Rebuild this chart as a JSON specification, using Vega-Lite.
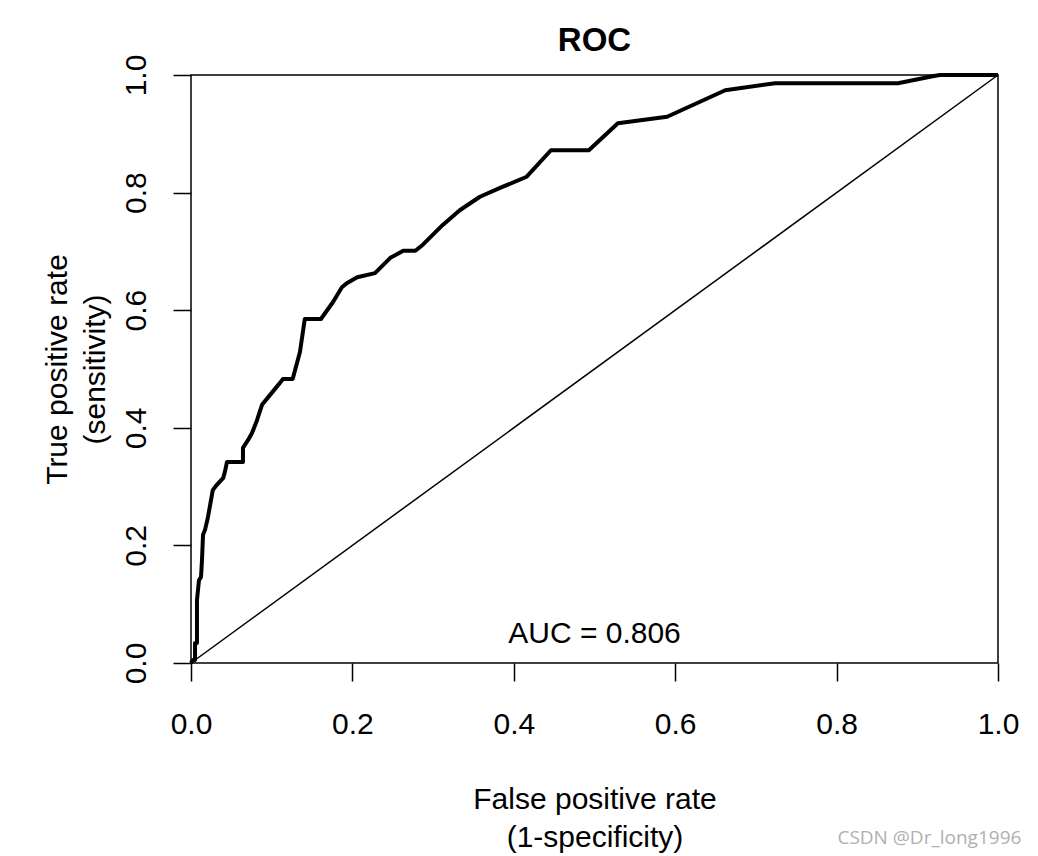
{
  "$schema": "https://vega.github.io/schema/vega-lite/v6.json",
  "width": 807,
  "height": 588,
  "autosize": {"type": "none"},
  "padding": {"left": 191, "top": 75, "right": 40, "bottom": 193},
  "background": "white",
  "config": {"font": "Liberation Sans", "view": {"stroke": "black", "strokeWidth": 1.5}},
  "title": {"text": "ROC", "fontSize": 33, "fontWeight": "bold", "color": "black", "offset": 21, "baseline": "bottom", "anchor": "middle", "frame": "group", "dy": 58},
  "datasets": {
    "diag": [{"fpr": 0, "tpr": 0, "step": 0}, {"fpr": 1, "tpr": 1, "step": 1}],
    "roc": [
      {"step": 0, "fpr": 0.0, "tpr": 0.0},
      {"step": 1, "fpr": 0.0025, "tpr": 0.005},
      {"step": 2, "fpr": 0.005, "tpr": 0.005},
      {"step": 3, "fpr": 0.005, "tpr": 0.034},
      {"step": 4, "fpr": 0.0074, "tpr": 0.034},
      {"step": 5, "fpr": 0.0074, "tpr": 0.107},
      {"step": 6, "fpr": 0.0099, "tpr": 0.141},
      {"step": 7, "fpr": 0.0124, "tpr": 0.146},
      {"step": 8, "fpr": 0.0136, "tpr": 0.175},
      {"step": 9, "fpr": 0.0149, "tpr": 0.218},
      {"step": 10, "fpr": 0.0173, "tpr": 0.226},
      {"step": 11, "fpr": 0.021, "tpr": 0.248},
      {"step": 12, "fpr": 0.027, "tpr": 0.294},
      {"step": 13, "fpr": 0.032, "tpr": 0.303},
      {"step": 14, "fpr": 0.04, "tpr": 0.315},
      {"step": 15, "fpr": 0.042, "tpr": 0.325},
      {"step": 16, "fpr": 0.0446, "tpr": 0.342},
      {"step": 17, "fpr": 0.0644, "tpr": 0.342},
      {"step": 18, "fpr": 0.0644, "tpr": 0.366},
      {"step": 19, "fpr": 0.0706, "tpr": 0.379},
      {"step": 20, "fpr": 0.0756, "tpr": 0.391},
      {"step": 21, "fpr": 0.0818, "tpr": 0.413},
      {"step": 22, "fpr": 0.088, "tpr": 0.439},
      {"step": 23, "fpr": 0.098, "tpr": 0.456},
      {"step": 24, "fpr": 0.11, "tpr": 0.476},
      {"step": 25, "fpr": 0.114, "tpr": 0.483},
      {"step": 26, "fpr": 0.126, "tpr": 0.483},
      {"step": 27, "fpr": 0.135, "tpr": 0.529},
      {"step": 28, "fpr": 0.141, "tpr": 0.585},
      {"step": 29, "fpr": 0.161, "tpr": 0.585},
      {"step": 30, "fpr": 0.176, "tpr": 0.614},
      {"step": 31, "fpr": 0.187, "tpr": 0.639},
      {"step": 32, "fpr": 0.193, "tpr": 0.646},
      {"step": 33, "fpr": 0.206, "tpr": 0.656},
      {"step": 34, "fpr": 0.228, "tpr": 0.663},
      {"step": 35, "fpr": 0.247, "tpr": 0.689},
      {"step": 36, "fpr": 0.263, "tpr": 0.701},
      {"step": 37, "fpr": 0.278, "tpr": 0.701},
      {"step": 38, "fpr": 0.287, "tpr": 0.711},
      {"step": 39, "fpr": 0.312, "tpr": 0.745},
      {"step": 40, "fpr": 0.333, "tpr": 0.77},
      {"step": 41, "fpr": 0.358, "tpr": 0.793},
      {"step": 42, "fpr": 0.383, "tpr": 0.808},
      {"step": 43, "fpr": 0.416, "tpr": 0.827},
      {"step": 44, "fpr": 0.446, "tpr": 0.872},
      {"step": 45, "fpr": 0.493, "tpr": 0.872},
      {"step": 46, "fpr": 0.529, "tpr": 0.918},
      {"step": 47, "fpr": 0.59, "tpr": 0.929},
      {"step": 48, "fpr": 0.662, "tpr": 0.974},
      {"step": 49, "fpr": 0.724, "tpr": 0.986},
      {"step": 50, "fpr": 0.876, "tpr": 0.986},
      {"step": 51, "fpr": 0.919, "tpr": 0.998},
      {"step": 52, "fpr": 0.928, "tpr": 1.0},
      {"step": 53, "fpr": 1.0, "tpr": 1.0}
    ],
    "auc": [{"fpr": 0.5, "tpr": 0.05, "label": "AUC = 0.806"}],
    "wm": [{"fpr": 0.915, "tpr": -0.298, "label": "CSDN @Dr_long1996"}]
  },
  "encoding": {
    "x": {
      "field": "fpr", "type": "quantitative",
      "scale": {"domain": [0, 1], "nice": false, "zero": false},
      "axis": {
        "title": ["False positive rate", "(1-specificity)"],
        "values": [0, 0.2, 0.4, 0.6, 0.8, 1], "format": ".1f",
        "domain": false, "grid": false, "tickSize": 18, "tickWidth": 1.5, "tickColor": "black",
        "labelFontSize": 30, "labelColor": "black", "labelPadding": 28, "labelFlush": false, "labelOverlap": false,
        "titleFontSize": 30, "titleFontWeight": "normal", "titleColor": "black", "titleLineHeight": 38, "titlePadding": 45
      }
    },
    "y": {
      "field": "tpr", "type": "quantitative",
      "scale": {"domain": [0, 1], "nice": false, "zero": false},
      "axis": {
        "title": ["True positive rate", "(sensitivity)"],
        "values": [0, 0.2, 0.4, 0.6, 0.8, 1], "format": ".1f",
        "domain": false, "grid": false, "tickSize": 18, "tickWidth": 1.5, "tickColor": "black",
        "labelFontSize": 30, "labelColor": "black", "labelPadding": 28, "labelFlush": false, "labelOverlap": false,
        "labelAngle": -90, "labelAlign": "center", "labelBaseline": "alphabetic",
        "titleFontSize": 30, "titleFontWeight": "normal", "titleColor": "black", "titleLineHeight": 38, "titlePadding": 11
      }
    }
  },
  "layer": [
    {"data": {"name": "diag"}, "mark": {"type": "line", "color": "black", "strokeWidth": 1.5}, "encoding": {"order": {"field": "step"}}},
    {"data": {"name": "roc"}, "mark": {"type": "line", "color": "black", "strokeWidth": 4, "strokeJoin": "round"}, "encoding": {"order": {"field": "step"}}},
    {"data": {"name": "auc"}, "mark": {"type": "text", "fontSize": 30, "align": "center", "baseline": "middle", "color": "black"}, "encoding": {"text": {"field": "label"}}},
    {"data": {"name": "wm"}, "mark": {"type": "text", "fontSize": 19, "align": "center", "baseline": "middle", "color": "#b0b0b0", "font": "Open Sans"}, "encoding": {"text": {"field": "label"}}}
  ]
}
